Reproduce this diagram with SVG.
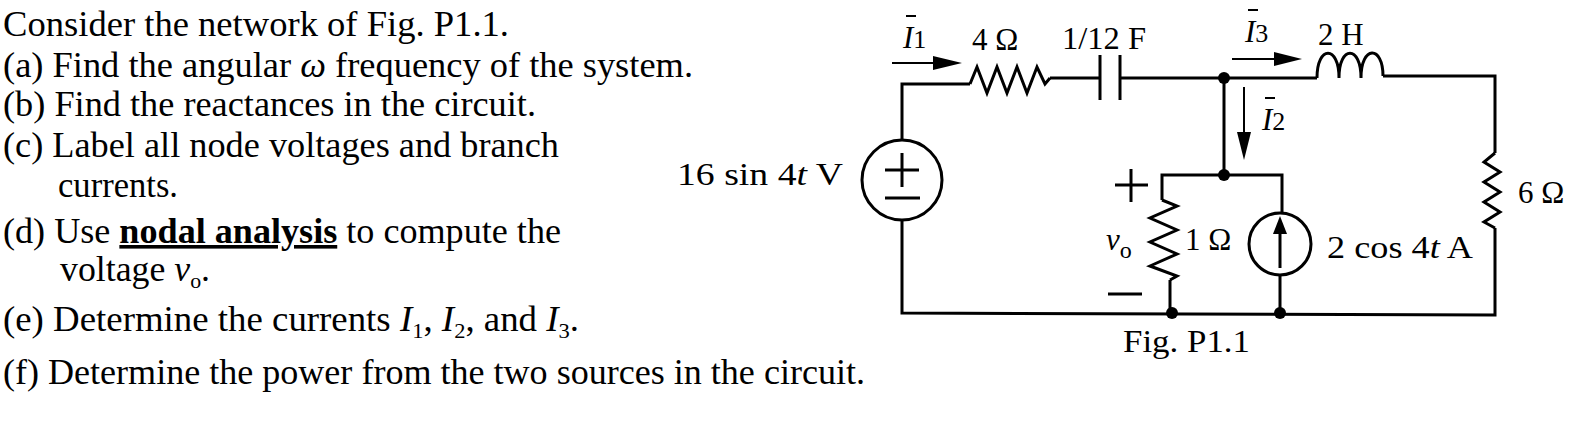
<svg xmlns="http://www.w3.org/2000/svg" width="1589" height="431" viewBox="0 0 1589 431">
<style>
text{font-family:"Liberation Serif","Times New Roman",serif;fill:#000}
.q{font-size:36px}
.c{font-size:31px}
.w{fill:none;stroke:#000;stroke-width:3;stroke-linejoin:miter}
.t{fill:none;stroke:#000;stroke-width:2}
.dot{fill:#000}
</style>
<g id="question">
<text class="q" x="3" y="36" textLength="506" lengthAdjust="spacingAndGlyphs">Consider the network of Fig. P1.1.</text>
<text class="q" x="3" y="77" textLength="690" lengthAdjust="spacingAndGlyphs">(a) Find the angular <tspan font-style="italic">ω</tspan> frequency of the system.</text>
<text class="q" x="3" y="116" textLength="533" lengthAdjust="spacingAndGlyphs">(b) Find the reactances in the circuit.</text>
<text class="q" x="3" y="157" textLength="556" lengthAdjust="spacingAndGlyphs">(c) Label all node voltages and branch</text>
<text class="q" x="58" y="197" textLength="120" lengthAdjust="spacingAndGlyphs">currents.</text>
<text class="q" x="3" y="243" textLength="558" lengthAdjust="spacingAndGlyphs">(d) Use <tspan font-weight="bold" text-decoration="underline">nodal analysis</tspan> to compute the</text>
<text class="q" x="60" y="281" textLength="150" lengthAdjust="spacingAndGlyphs">voltage <tspan font-style="italic">v</tspan><tspan font-size="22" dy="7">o</tspan><tspan dy="-7">.</tspan></text>
<text class="q" x="3" y="331" textLength="576" lengthAdjust="spacingAndGlyphs">(e) Determine the currents <tspan font-style="italic">I</tspan><tspan font-size="22" dy="7">1</tspan><tspan dy="-7">, </tspan><tspan font-style="italic">I</tspan><tspan font-size="22" dy="7">2</tspan><tspan dy="-7">, and </tspan><tspan font-style="italic">I</tspan><tspan font-size="22" dy="7">3</tspan><tspan dy="-7">.</tspan></text>
<text class="q" x="3" y="384" textLength="862" lengthAdjust="spacingAndGlyphs">(f) Determine the power from the two sources in the circuit.</text>
</g>
<g id="connectors">
<path class="w" d="M902,140V84H970"/>
<path class="w" d="M1050,78H1100"/>
<path class="w" d="M1120,78H1317"/>
<path class="w" d="M1383,76H1495V153"/>
<path class="w" d="M1495,228V315L902,313V220"/>
<path class="w" d="M1224,78V175"/>
<path class="w" d="M1162,200V175H1282V213"/>
<path class="w" d="M1170,280V313"/>
<path class="w" d="M1280,275V313"/>
</g>
<g id="vsource">
<circle class="w" cx="902" cy="180" r="40"/>
<path class="w" d="M885,170H919M902,153V187M885,198H920"/>
<text class="c" x="677" y="185" textLength="166" lengthAdjust="spacingAndGlyphs">16 sin 4<tspan font-style="italic">t</tspan> V</text>
</g>
<g id="r4">
<path class="w" d="M970,84L977,67L987,93L997,67L1007,93L1017,67L1027,93L1037,67L1045,84L1050,78"/>
<text class="c" x="972" y="50">4 Ω</text>
</g>
<g id="cap">
<path class="w" d="M1100,55V100M1120,55V100"/>
<text class="c" x="1062" y="49" textLength="84" lengthAdjust="spacingAndGlyphs">1/12 F</text>
</g>
<g id="ind">
<path class="w" d="M1317,78C1317,45 1339,45 1339,78C1339,45 1361,45 1361,78C1361,45 1383,45 1383,76"/>
<text class="c" x="1318" y="45">2 H</text>
</g>
<g id="r6">
<path class="w" d="M1495,153L1484,162L1500,172L1484,182L1500,192L1484,202L1500,212L1484,222L1495,228"/>
<text class="c" x="1518" y="203">6 Ω</text>
</g>
<g id="r1">
<path class="w" d="M1162,200L1177,206L1150,218L1177,230L1150,242L1177,254L1150,266L1177,276L1170,280"/>
<text class="c" x="1185" y="250">1 Ω</text>
<text class="c" x="1106" y="250" font-style="italic">v<tspan font-style="normal" font-size="24" dy="8">o</tspan></text>
<path class="w" d="M1115,185H1148M1131,169V202M1108,294H1142"/>
</g>
<g id="isource">
<circle class="w" cx="1280" cy="244" r="31"/>
<path class="w" d="M1280,268V232"/>
<path d="M1273,234L1280,216L1287,234z"/>
<text class="c" x="1327" y="258" textLength="146" lengthAdjust="spacingAndGlyphs">2 cos 4<tspan font-style="italic">t</tspan> A</text>
</g>
<g id="nodes">
<circle class="dot" cx="1224" cy="78" r="6"/>
<circle class="dot" cx="1224" cy="175" r="6"/>
<circle class="dot" cx="1172" cy="313" r="6"/>
<circle class="dot" cx="1280" cy="313" r="6"/>
</g>
<g id="currents">
<path class="t" d="M892,63H940"/>
<path d="M933,56L962,63L933,70z"/>
<text class="c" x="903" y="48" font-style="italic">I<tspan font-style="normal" font-size="26">1</tspan></text>
<path class="t" d="M906,16H916"/>
<path class="t" d="M1232,59H1280"/>
<path d="M1274,52L1302,59L1274,66z"/>
<text class="c" x="1245" y="42" font-style="italic">I<tspan font-style="normal" font-size="26">3</tspan></text>
<path class="t" d="M1248,10H1258"/>
<path class="t" d="M1244,87V140"/>
<path d="M1237,132L1244,160L1251,132z"/>
<text class="c" x="1262" y="130" font-style="italic">I<tspan font-style="normal" font-size="26">2</tspan></text>
<path class="t" d="M1265,98H1275"/>
</g>
<text class="c" x="1123" y="352" textLength="127" lengthAdjust="spacingAndGlyphs">Fig. P1.1</text>
</svg>
